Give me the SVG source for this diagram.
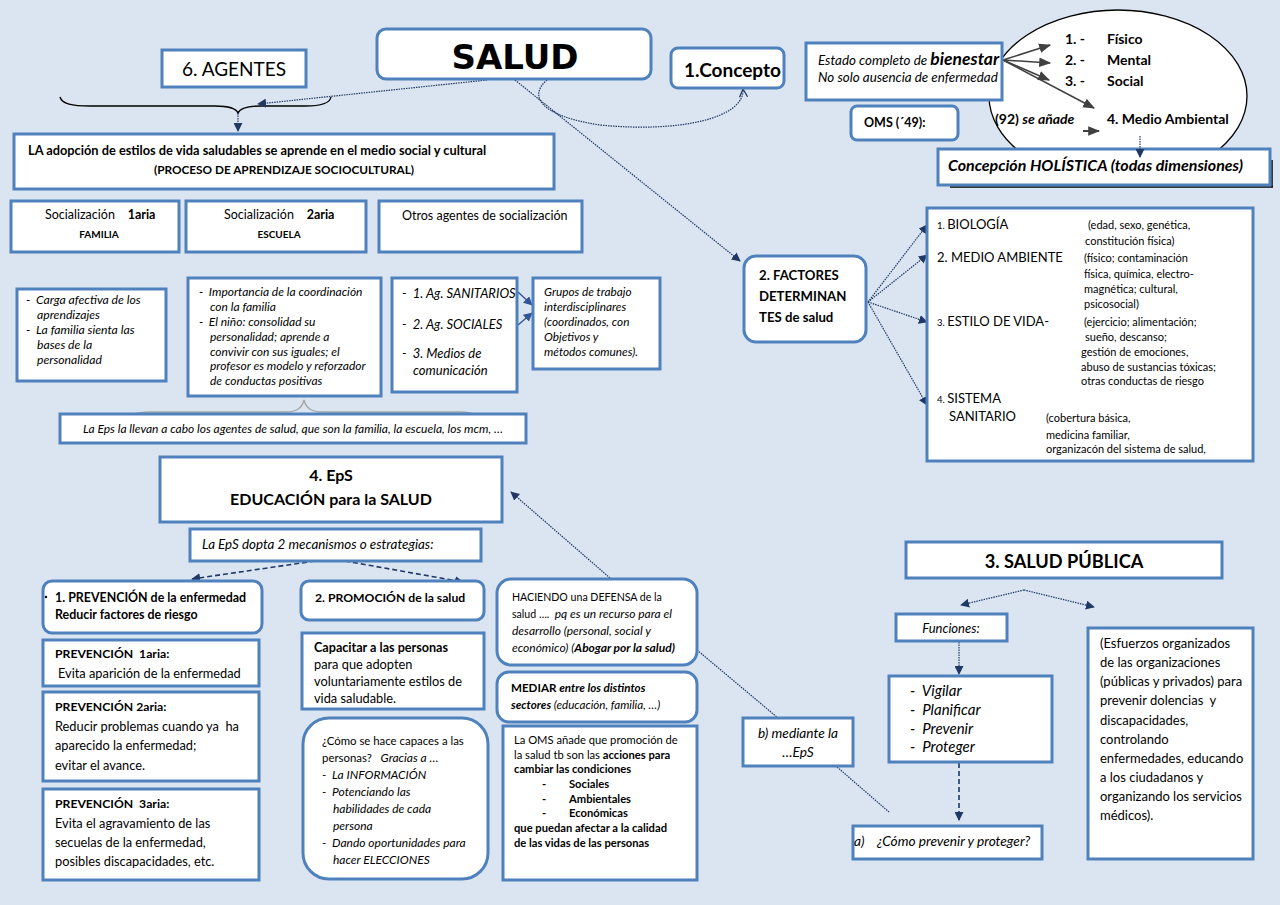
<svg xmlns="http://www.w3.org/2000/svg" width="1280" height="905" viewBox="0 0 1280 905">
<defs>
<style>
.bx{fill:#fff;stroke:#4f81bd;stroke-width:3}
.t{font-family:Lato,"Liberation Sans",sans-serif;fill:#000}
.i{font-style:italic}
.b{font-weight:bold}
.dot{stroke:#1f3864;stroke-width:1.2;stroke-dasharray:1.5 1;fill:none}
.dash{stroke:#1f3864;stroke-width:1.6;stroke-dasharray:5 3;fill:none}
.sol{stroke:#404040;stroke-width:1.5;fill:none}
</style>
<marker id="ah" viewBox="0 0 10 10" refX="9" refY="5" markerWidth="9" markerHeight="9" markerUnits="userSpaceOnUse" orient="auto"><path d="M0,0 L10,5 L0,10 z" fill="#1f3864"/></marker>
<marker id="ahg" viewBox="0 0 10 10" refX="9" refY="5" markerWidth="12" markerHeight="12" markerUnits="userSpaceOnUse" orient="auto"><path d="M0,1 L10,5 L0,9 z" fill="#404040"/></marker>
<marker id="ahb" viewBox="0 0 10 10" refX="9" refY="5" markerWidth="9" markerHeight="9" markerUnits="userSpaceOnUse" orient="auto"><path d="M0,0 L10,5 L0,10 z" fill="#2f5597"/></marker>
<marker id="aho" viewBox="0 0 10 10" refX="9" refY="5" markerWidth="10" markerHeight="10" markerUnits="userSpaceOnUse" orient="auto"><path d="M1,1 L9,5 L1,9" fill="none" stroke="#1f3864" stroke-width="1.3"/></marker>
</defs>
<rect x="0" y="0" width="1280" height="905" fill="#dbe5f1"/>

<g id="dimensiones">
<ellipse cx="1118" cy="96" rx="129" ry="86" fill="#fff" stroke="#000" stroke-width="1.3"/>
<g class="t b" font-size="14">
<text x="1065" y="44">1. -</text><text x="1107" y="44">Físico</text>
<text x="1065" y="65">2. -</text><text x="1107" y="65">Mental</text>
<text x="1065" y="86">3. -</text><text x="1107" y="86">Social</text>
<text x="995" y="124">(92) <tspan class="i">se añade</tspan></text>
<text x="1107" y="124">4. Medio Ambiental</text>
</g>
</g>

<g id="holistica">
<line x1="950" y1="187" x2="1273" y2="187" stroke="#000" stroke-width="1.5"/>
<line x1="1272" y1="160" x2="1272" y2="187" stroke="#000" stroke-width="1.5"/>
<rect x="938" y="149" width="332" height="36" class="bx"/>
<text x="948" y="171" class="t i b" font-size="16">Concepción HOLÍSTICA (todas dimensiones)</text>
</g>

<g id="connectors">
<path d="M60,97 C62,104 72,106 90,106 L215,106 C228,106 236,108 238,113 C240,108 248,106 261,106 L305,106 C322,106 330,103 331,97" fill="none" stroke="#000" stroke-width="1.4"/>
<line x1="487" y1="80" x2="258" y2="104" class="dot" marker-end="url(#ah)"/>
<line x1="238" y1="113" x2="238" y2="131" class="dot" marker-end="url(#ah)"/>
<path d="M547,80 C528,96 540,116 600,125 C680,133 745,118 743,89" class="dot" marker-end="url(#aho)"/>
<line x1="515" y1="80" x2="740" y2="261" class="dot" marker-end="url(#ah)"/>
<line x1="1003" y1="60" x2="1050" y2="45" class="sol" marker-end="url(#ahg)"/>
<line x1="1003" y1="60" x2="1050" y2="63" class="sol" marker-end="url(#ahg)"/>
<line x1="1003" y1="60" x2="1049" y2="80" class="sol" marker-end="url(#ahg)"/>
<line x1="1003" y1="60" x2="1094" y2="108" class="sol" marker-end="url(#ahg)"/>
<line x1="1083" y1="131" x2="1099" y2="131" stroke="#000" stroke-width="1.5" marker-end="url(#ahg)"/>
<line x1="1140" y1="136" x2="1140" y2="157" class="dot" marker-end="url(#ah)"/>
<line x1="868" y1="302" x2="927" y2="225" class="dot" marker-end="url(#ah)"/>
<line x1="868" y1="302" x2="927" y2="255" class="dot" marker-end="url(#ah)"/>
<line x1="868" y1="302" x2="927" y2="322" class="dot" marker-end="url(#ah)"/>
<line x1="868" y1="302" x2="927" y2="405" class="dot" marker-end="url(#ah)"/>
<line x1="518" y1="292" x2="532" y2="305" stroke="#2f5597" stroke-width="1.4" marker-end="url(#ahb)"/>
<line x1="518" y1="325" x2="532" y2="313" stroke="#2f5597" stroke-width="1.4" marker-end="url(#ahb)"/>
<path d="M125,424 C127,415 135,412 150,412 L285,412 C297,412 302,408 304,400 C306,408 311,412 323,412 L460,412 C474,412 480,416 481,424" fill="none" stroke="#a6a6a6" stroke-width="1.4"/>
<line x1="315" y1="561" x2="192" y2="579" class="dash" marker-end="url(#ah)"/>
<line x1="345" y1="561" x2="463" y2="582" class="dash" marker-end="url(#ah)"/>
<line x1="610" y1="578" x2="511" y2="492" class="dot" marker-end="url(#ah)"/>
<line x1="697" y1="650" x2="778" y2="718" class="dot"/>
<line x1="837" y1="767" x2="889" y2="812" class="dot"/>
<line x1="1024" y1="590" x2="961" y2="605" class="dot" marker-end="url(#ah)"/>
<line x1="1024" y1="590" x2="1094" y2="607" class="dot" marker-end="url(#ah)"/>
<line x1="959" y1="642" x2="959" y2="674" class="dot" marker-end="url(#ah)"/>
<line x1="959" y1="763" x2="959" y2="820" class="dash" marker-end="url(#ah)"/>
</g>

<g id="salud">
<rect x="377" y="29" width="274" height="50" rx="9" class="bx"/>
<text x="515" y="69" text-anchor="middle" font-family="'DejaVu Sans',sans-serif" font-weight="bold" font-size="34">SALUD</text>
</g>

<g id="agentes">
<rect x="162" y="50" width="144" height="37" class="bx"/>
<text x="234" y="76" text-anchor="middle" class="t" font-size="19">6. AGENTES</text>
</g>

<g id="adopcion">
<rect x="14" y="134" width="540" height="55" class="bx"/>
<text x="28" y="155" class="t b" font-size="12.8">LA adopción de estilos de vida saludables se aprende en el medio social y cultural</text>
<text x="284" y="174" class="t b" font-size="11.8" text-anchor="middle">(PROCESO DE APRENDIZAJE SOCIOCULTURAL)</text>
</g>

<g id="soc1">
<rect x="11" y="201" width="168" height="51" class="bx"/>
<text x="45" y="219" class="t" font-size="12.5">Socialización&#160;&#160;&#160; <tspan class="b">1aria</tspan></text>
<text x="99" y="238" class="t b" font-size="10" text-anchor="middle">FAMILIA</text>
</g>
<g id="soc2">
<rect x="186" y="201" width="180" height="51" class="bx"/>
<text x="224" y="219" class="t" font-size="12.5">Socialización&#160;&#160;&#160; <tspan class="b">2aria</tspan></text>
<text x="279" y="238" class="t b" font-size="10" text-anchor="middle">ESCUELA</text>
</g>
<g id="soc3">
<rect x="379" y="201" width="203" height="51" class="bx"/>
<text x="402" y="220" class="t" font-size="12.5">Otros agentes de socialización</text>
</g>

<g id="familia-det">
<rect x="17" y="289" width="149" height="92" class="bx"/>
<g class="t i" font-size="12.2">
<text x="26" y="304">-&#160; Carga afectiva de los</text>
<text x="37" y="319">aprendizajes</text>
<text x="26" y="334">-&#160; La familia sienta las</text>
<text x="37" y="349">bases de la</text>
<text x="37" y="364">personalidad</text>
</g>
</g>

<g id="escuela-det">
<rect x="188" y="278" width="193" height="118" class="bx"/>
<g class="t i" font-size="12">
<text x="199" y="296">-&#160; Importancia de la coordinación</text>
<text x="210" y="311">con la familia</text>
<text x="199" y="326">-&#160; El niño: consolidad su</text>
<text x="210" y="341">personalidad; aprende a</text>
<text x="210" y="356">convivir con sus iguales; el</text>
<text x="210" y="370">profesor es modelo y reforzador</text>
<text x="210" y="385">de conductas positivas</text>
</g>
</g>

<g id="otros-det">
<rect x="392" y="278" width="125" height="114" class="bx"/>
<g class="t i" font-size="13">
<text x="402" y="298">-&#160; 1. Ag. SANITARIOS</text>
<text x="402" y="329">-&#160; 2. Ag. SOCIALES</text>
<text x="402" y="358">-&#160; 3. Medios de</text>
<text x="413" y="375">comunicación</text>
</g>
</g>

<g id="grupos">
<rect x="533" y="278" width="127" height="91" class="bx"/>
<g class="t i" font-size="11.8">
<text x="544" y="296">Grupos de trabajo</text>
<text x="544" y="311">interdisciplinares</text>
<text x="544" y="326">(coordinados, con</text>
<text x="544" y="341">Objetivos y</text>
<text x="544" y="356">métodos comunes).</text>
</g>
</g>

<g id="eps-agentes">
<rect x="60" y="414" width="466" height="29" class="bx"/>
<text x="293" y="433" class="t i" font-size="12" text-anchor="middle">La Eps la llevan a cabo los agentes de salud, que son la familia, la escuela, los mcm, …</text>
</g>

<g id="eps">
<rect x="160" y="457" width="342" height="65" class="bx"/>
<text x="331" y="481" class="t b" font-size="16" text-anchor="middle">4. EpS</text>
<text x="331" y="505" class="t b" font-size="16" text-anchor="middle">EDUCACIÓN para la SALUD</text>
</g>

<g id="dopta">
<rect x="190" y="529" width="291" height="32" class="bx"/>
<text x="202" y="549" class="t i" font-size="13.4">La EpS dopta 2 mecanismos o estrategias:</text>
</g>

<g id="prevencion">
<rect x="43" y="581" width="219" height="52" rx="9" class="bx"/>
<circle cx="46" cy="597" r="1.2" fill="#000"/>
<text x="55" y="602" class="t b" font-size="12.4">1. PREVENCIÓN de la enfermedad</text>
<text x="55" y="619" class="t b" font-size="12.4">Reducir factores de riesgo</text>
</g>
<g id="prev1">
<rect x="43" y="640" width="216" height="46" class="bx"/>
<text x="55" y="658" class="t b" font-size="12.2">PREVENCIÓN&#160; 1aria:</text>
<text x="58" y="678" class="t" font-size="12.8">Evita aparición de la enfermedad</text>
</g>
<g id="prev2">
<rect x="43" y="692" width="216" height="89" class="bx"/>
<text x="55" y="711" class="t b" font-size="12.2">PREVENCIÓN 2aria:</text>
<text x="55" y="731" class="t" font-size="12.8">Reducir problemas cuando ya&#160; ha</text>
<text x="55" y="750" class="t" font-size="12.8">aparecido la enfermedad;</text>
<text x="55" y="770" class="t" font-size="12.8">evitar el avance.</text>
</g>
<g id="prev3">
<rect x="43" y="789" width="216" height="91" class="bx"/>
<text x="55" y="808" class="t b" font-size="12.2">PREVENCIÓN&#160; 3aria:</text>
<text x="55" y="828" class="t" font-size="12.8">Evita el agravamiento de las</text>
<text x="55" y="847" class="t" font-size="12.8">secuelas de la enfermedad,</text>
<text x="55" y="866" class="t" font-size="12.8">posibles discapacidades, etc.</text>
</g>

<g id="promocion">
<rect x="301" y="581" width="183" height="39" rx="8" class="bx"/>
<text x="315" y="602" class="t b" font-size="12.2">2. PROMOCIÓN de la salud</text>
</g>
<g id="capacitar">
<rect x="302" y="633" width="182" height="76" class="bx"/>
<text x="314" y="652" class="t b" font-size="12.6">Capacitar a las personas</text>
<text x="314" y="669" class="t" font-size="12.8">para que adopten</text>
<text x="314" y="686" class="t" font-size="12.8">voluntariamente estilos de</text>
<text x="314" y="703" class="t" font-size="12.8">vida saludable.</text>
</g>
<g id="como">
<rect x="303" y="718" width="185" height="161" rx="26" class="bx"/>
<g class="t" font-size="11.4">
<text x="322" y="745">¿Cómo se hace capaces a las</text>
<text x="322" y="762">personas?&#160;&#160; <tspan class="i" font-size="12">Gracias a …</tspan></text>
<text x="322" y="779">-&#160; <tspan class="i" font-size="12">La INFORMACIÓN</tspan></text>
<text x="322" y="796">-&#160; <tspan class="i" font-size="12">Potenciando las</tspan></text>
<text x="333" y="813" class="i" font-size="12">habilidades de cada</text>
<text x="333" y="830" class="i" font-size="12">persona</text>
<text x="322" y="847">-&#160; <tspan class="i" font-size="12">Dando oportunidades para</tspan></text>
<text x="333" y="864" class="i" font-size="12">hacer ELECCIONES</text>
</g>
</g>

<g id="haciendo">
<rect x="497" y="579" width="200" height="86" rx="14" class="bx"/>
<g class="t" font-size="10.6">
<text x="512" y="601">HACIENDO una DEFENSA de la</text>
<text x="512" y="618">salud ….&#160; <tspan class="i" font-size="12">pq es un recurso para el</tspan></text>
<text x="512" y="635" class="i" font-size="12">desarrollo (personal, social y</text>
<text x="512" y="652" class="i" font-size="12">económico) (<tspan class="b">Abogar por la salud)</tspan></text>
</g>
</g>
<g id="mediar">
<rect x="497" y="672" width="200" height="50" rx="12" class="bx"/>
<g class="t" font-size="11.6">
<text x="511" y="692"><tspan class="b">MEDIAR </tspan><tspan class="b i">entre los distintos</tspan></text>
<text x="511" y="709"><tspan class="b i">sectores</tspan><tspan class="i"> (educación, familia, …)</tspan></text>
</g>
</g>
<g id="oms-promo">
<rect x="503" y="726" width="194" height="154" class="bx"/>
<g class="t" font-size="11.2">
<text x="514" y="744">La OMS añade que promoción de</text>
<text x="514" y="759">la salud tb son las <tspan class="b">acciones para</tspan></text>
<text x="514" y="773" class="b">cambiar las condiciones</text>
<text x="542" y="788" class="b">-</text><text x="569" y="788" class="b">Sociales</text>
<text x="542" y="803" class="b">-</text><text x="569" y="803" class="b">Ambientales</text>
<text x="542" y="817" class="b">-</text><text x="569" y="817" class="b">Económicas</text>
<text x="514" y="832" class="b">que puedan afectar a la calidad</text>
<text x="514" y="847" class="b">de las vidas de las personas</text>
</g>
</g>

<g id="mediante">
<rect x="743" y="718" width="110" height="48" class="bx"/>
<text x="798" y="738" class="t i" font-size="13.7" text-anchor="middle">b) mediante la</text>
<text x="798" y="757" class="t i" font-size="13.7" text-anchor="middle">…EpS</text>
</g>
<g id="como-prevenir">
<rect x="853" y="826" width="189" height="33" class="bx"/>
<text x="854" y="846" class="t i" font-size="13.7">a)</text>
<text x="877" y="846" class="t i" font-size="13.7">¿Cómo prevenir y proteger?</text>
</g>

<g id="salud-publica">
<rect x="906" y="542" width="316" height="36" class="bx"/>
<text x="1064" y="568" class="t b" font-size="18.2" text-anchor="middle">3. SALUD PÚBLICA</text>
</g>
<g id="funciones">
<rect x="896" y="614" width="111" height="27" class="bx"/>
<text x="951" y="633" class="t i" font-size="13" text-anchor="middle">Funciones:</text>
</g>
<g id="vigilar">
<rect x="889" y="676" width="163" height="86" class="bx"/>
<g class="t i" font-size="15">
<text x="910" y="696">-&#160; Vigilar</text>
<text x="910" y="715">-&#160; Planificar</text>
<text x="910" y="734">-&#160; Prevenir</text>
<text x="910" y="752">-&#160; Proteger</text>
</g>
</g>
<g id="esfuerzos">
<rect x="1088" y="628" width="165" height="231" class="bx"/>
<g class="t" font-size="13">
<text x="1100" y="648">(Esfuerzos organizados</text>
<text x="1100" y="667">de las organizaciones</text>
<text x="1100" y="686">(públicas y privados) para</text>
<text x="1100" y="705">prevenir dolencias&#160; y</text>
<text x="1100" y="725">discapacidades,</text>
<text x="1100" y="744">controlando</text>
<text x="1100" y="763">enfermedades, educando</text>
<text x="1100" y="782">a los ciudadanos y</text>
<text x="1100" y="801">organizando los servicios</text>
<text x="1100" y="820">médicos).</text>
</g>
</g>

<g id="concepto">
<rect x="671" y="48" width="113" height="40" rx="7" class="bx"/>
<text x="684" y="77" class="t b" font-size="19">1.Concepto</text>
</g>

<g id="estado">
<rect x="806" y="43" width="196" height="57" class="bx"/>
<text x="818" y="65" class="t i" font-size="13.4">Estado completo de <tspan class="b" font-size="17.5">bienestar</tspan></text>
<text x="818" y="82" class="t i" font-size="13.4">No solo ausencia de enfermedad</text>
</g>

<g id="oms49">
<rect x="851" y="106" width="107" height="34" rx="6" class="bx"/>
<text x="864" y="127" class="t b" font-size="12.5">OMS (´49):</text>
</g>

<g id="factores">
<rect x="744" y="256" width="122" height="86" rx="12" class="bx"/>
<g class="t b" font-size="13.2">
<text x="759" y="280">2. FACTORES</text>
<text x="759" y="301">DETERMINAN</text>
<text x="759" y="322">TES de salud</text>
</g>
</g>

<g id="factores-det">
<rect x="927" y="208" width="326" height="253" class="bx"/>
<g class="t" font-size="13">
<text x="937" y="229"><tspan font-size="9.5">1. </tspan>BIOLOGÍA</text>
<text x="937" y="262">2. MEDIO AMBIENTE</text>
<text x="937" y="326"><tspan font-size="9.5">3. </tspan>ESTILO DE VIDA-</text>
<text x="937" y="403"><tspan font-size="9.5">4. </tspan>SISTEMA</text>
<text x="949" y="421">SANITARIO</text>
</g>
<g class="t" font-size="11">
<text x="1088" y="229">(edad, sexo, genética,</text>
<text x="1085" y="245">constitución física)</text>
<text x="1084" y="262">(físico; contaminación</text>
<text x="1084" y="278">física, química, electro-</text>
<text x="1084" y="293">magnética; cultural,</text>
<text x="1084" y="308">psicosocial)</text>
<text x="1084" y="326">(ejercicio; alimentación;</text>
<text x="1085" y="341">sueño, descanso;</text>
<text x="1081" y="356">gestión de emociones,</text>
<text x="1081" y="371">abuso de sustancias tóxicas;</text>
<text x="1081" y="385">otras conductas de riesgo</text>
<text x="1046" y="422">(cobertura básica,</text>
<text x="1046" y="439">medicina familiar,</text>
<text x="1046" y="453">organizacón del sistema de salud,</text>
</g>
</g>
</svg>
